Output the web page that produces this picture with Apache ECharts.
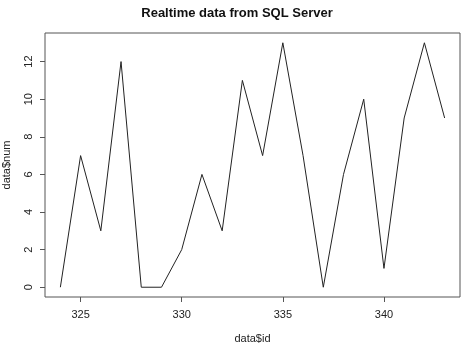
<!DOCTYPE html>
<html>
<head>
<meta charset="utf-8">
<script src="https://cdn.jsdelivr.net/npm/echarts@6/dist/echarts.min.js"></script>
<style>
html, body { margin: 0; padding: 0; background: #fff; }
#chart { width: 474px; height: 351px; }
</style>
</head>
<body>
<div id="chart"></div>
<script>
const ids = [324, 325, 326, 327, 328, 329, 330, 331, 332, 333, 334, 335, 336, 337, 338, 339, 340, 341, 342, 343];
const nums = [0, 7, 3, 12, 0, 0, 2, 6, 3, 11, 7, 13, 7, 0, 6, 10, 1, 9, 13, 9];
const xTicks = [325, 330, 335, 340];
const yTicks = [0, 2, 4, 6, 8, 10, 12];

// R pads the axis range by 4% on each side
const xPad = (ids[ids.length - 1] - ids[0]) * 0.04;
const yPad = (Math.max(...nums) - Math.min(...nums)) * 0.04;

const font = 'Liberation Sans, Arial, sans-serif';
const axisColor = '#555';

const chart = echarts.init(document.getElementById('chart'));
chart.setOption({
    animation: false,
    title: {
        text: 'Realtime data from SQL Server',
        left: 'center',
        top: 2,
        textStyle: { fontFamily: font, fontSize: 13, fontWeight: 'bold', color: '#111' }
    },
    grid: {
        left: 45, right: 14, top: 33, bottom: 54,
        outerBoundsMode: 'none',
        containLabel: false,
        show: true, borderColor: axisColor, borderWidth: 1, backgroundColor: 'transparent'
    },
    xAxis: {
        type: 'value',
        min: ids[0] - xPad,
        max: ids[ids.length - 1] + xPad,
        name: 'data$id',
        nameLocation: 'middle',
        nameGap: 36,
        nameTextStyle: { fontFamily: font, fontSize: 11, color: '#222' },
        axisLine: { show: false, onZero: false },
        axisTick: { show: true, inside: false, length: 5, customValues: xTicks, lineStyle: { color: axisColor } },
        axisLabel: { customValues: xTicks, margin: 12, fontFamily: font, fontSize: 11, color: '#222' },
        splitLine: { show: false }
    },
    yAxis: {
        type: 'value',
        min: Math.min(...nums) - yPad,
        max: Math.max(...nums) + yPad,
        name: 'data$num',
        nameLocation: 'middle',
        nameGap: 33,
        nameRotate: 90,
        nameTextStyle: { fontFamily: font, fontSize: 11, color: '#222' },
        axisLine: { show: false, onZero: false },
        axisTick: { show: true, inside: false, length: 5, customValues: yTicks, lineStyle: { color: axisColor } },
        axisLabel: { customValues: yTicks, rotate: 90, margin: 11, fontFamily: font, fontSize: 11, color: '#222' },
        splitLine: { show: false }
    },
    series: [{
        type: 'line',
        data: ids.map((id, i) => [id, nums[i]]),
        showSymbol: false,
        lineStyle: { color: '#222', width: 1 }
    }]
});
</script>
</body>
</html>
